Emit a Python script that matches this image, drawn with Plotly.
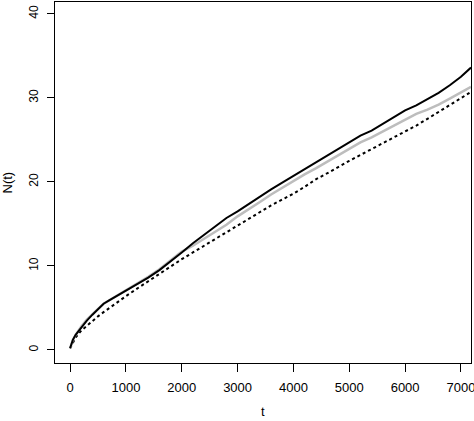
import plotly.graph_objects as go

t_vals = [0, 50, 100, 200, 300, 400, 500, 600, 700, 800, 1000, 1200, 1400, 1600, 1800,
          2000, 2200, 2400, 2600, 2800, 3000, 3200, 3400, 3600, 3800, 4000, 4200, 4400,
          4600, 4800, 5000, 5200, 5400, 5600, 5800, 6000, 6200, 6400, 6600, 6800, 7000, 7180]

n_black = [0.2, 1.2, 1.8, 2.7, 3.5, 4.2, 4.8, 5.5, 5.9, 6.3, 7.0, 7.8, 8.6, 9.5, 10.5,
           11.6, 12.7, 13.7, 14.7, 15.7, 16.5, 17.4, 18.3, 19.1, 19.9, 20.7, 21.5, 22.3,
           23.1, 23.9, 24.8, 25.5, 26.1, 26.9, 27.7, 28.5, 29.1, 29.8, 30.6, 31.5, 32.5, 33.6]

n_grey = [0.2, 1.2, 1.8, 2.8, 3.6, 4.3, 4.9, 5.5, 5.9, 6.3, 7.0, 7.8, 8.7, 9.6, 10.6,
          11.7, 12.4, 13.2, 14.0, 14.9, 15.9, 16.7, 17.6, 18.5, 19.3, 20.1, 20.9, 21.6,
          22.4, 23.2, 24.0, 24.7, 25.3, 26.0, 26.7, 27.4, 28.1, 28.6, 29.2, 29.9, 30.6, 31.3]

n_dotted = [0.2, 0.9, 1.5, 2.3, 2.9, 3.5, 4.0, 4.5, 5.0, 5.4, 6.4, 7.3, 8.2, 9.0, 9.9,
            10.8, 11.6, 12.4, 13.2, 14.1, 14.9, 15.6, 16.4, 17.2, 17.9, 18.6, 19.4, 20.3,
            21.0, 21.8, 22.5, 23.2, 23.9, 24.6, 25.2, 25.9, 26.7, 27.5, 28.3, 29.1, 29.9, 30.7]

x_ticks = [0, 1000, 2000, 3000, 4000, 5000, 6000, 7000]
y_ticks = [0, 10, 20, 30, 40]

fig = go.Figure()
fig.add_trace(go.Scatter(x=t_vals, y=n_dotted, mode="lines",
                         line=dict(color="black", width=2, dash="dot"), showlegend=False))
fig.add_trace(go.Scatter(x=t_vals, y=n_grey, mode="lines",
                         line=dict(color="#bdbdbd", width=2.5), showlegend=False))
fig.add_trace(go.Scatter(x=t_vals, y=n_black, mode="lines",
                         line=dict(color="black", width=2), showlegend=False))

font_main = "Liberation Sans, Arial, Helvetica, sans-serif"

fig.update_layout(
    width=474, height=421,
    margin=dict(l=55, r=3, t=2, b=58, autoexpand=False),
    paper_bgcolor="white", plot_bgcolor="white",
    font=dict(family=font_main, size=12, color="black"),
    xaxis=dict(range=[-270, 7180], tickvals=x_ticks, ticktext=[str(v) for v in x_ticks],
               showgrid=False, zeroline=False, showline=True, mirror=True,
               linecolor="black", linewidth=1, ticks="outside", ticklen=8,
               tickcolor="black", tickwidth=1, automargin=False,
               ticklabeloverflow="allow", ticklabelstandoff=4,
               tickfont=dict(family="Liberation Sans Narrow, " + font_main, size=13)),
    yaxis=dict(range=[-1.55, 41.4], tickvals=y_ticks, ticktext=[str(v) for v in y_ticks],
               showgrid=False, zeroline=False, showline=True, mirror=True,
               linecolor="black", linewidth=1, ticks="outside", ticklen=7,
               tickcolor="black", tickwidth=1, tickangle=-90, automargin=False,
               ticklabeloverflow="allow", ticklabelstandoff=4,
               tickfont=dict(family=font_main, size=12)),
    annotations=[
        dict(text="t", xref="paper", yref="paper", x=0.5, y=-(411 - 363) / 361,
             xanchor="center", yanchor="middle", showarrow=False,
             font=dict(size=13, family=font_main)),
        dict(text="N(t)", xref="paper", yref="paper", x=(7 - 55) / 416, y=0.5,
             xanchor="center", yanchor="middle", showarrow=False, textangle=-90,
             font=dict(size=13, family=font_main)),
    ],
)

fig.write_html("out.html", config={"displayModeBar": False},
               post_script="document.body.style.margin='0';document.body.style.padding='0';")
